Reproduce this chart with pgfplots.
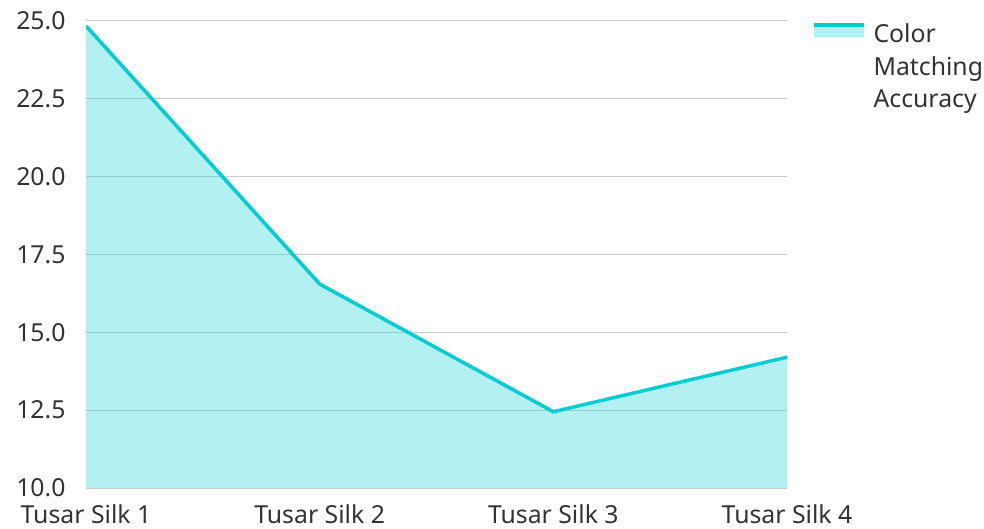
\documentclass[border=0pt]{standalone}
\usepackage{pgfplots}
\pgfplotsset{compat=1.18}
\usepackage{fontspec}
\setmainfont{Noto Sans}
\definecolor{lineC}{RGB}{0,206,209}
\definecolor{gridC}{RGB}{204,204,204}
\definecolor{txtC}{RGB}{51,51,51}
\begin{document}
\begin{tikzpicture}[x=1bp,y=1bp]
\path[use as bounding box] (-86bp,-41bp) rectangle (898bp,488bp);
\begin{axis}[
  at={(0,0)}, anchor=south west,
  scale only axis, width=701bp, height=467bp,
  xmin=0, xmax=3, ymin=10, ymax=25,
  xtick={0,1,2,3},
  xticklabels={Tusar Silk 1,Tusar Silk 2,Tusar Silk 3,Tusar Silk 4},
  ytick={10,12.5,15,17.5,20,22.5,25},
  yticklabel style={/pgf/number format/.cd, fixed, fixed zerofill, precision=1, /tikz/.cd, xshift=-17bp},
  xticklabel style={yshift=-13bp},
  /pgf/number format/assume math mode=true,
  ticklabel style={font=\fontsize{24.8bp}{28bp}\selectfont, text=txtC},
  major tick length=0pt,
  axis line style={draw=none},
  ymajorgrids, grid style={gridC, line width=1bp},
  legend style={draw=none, fill=none, at={(axis description cs:1,1)}, anchor=north west,
    xshift=25bp, yshift=-2.3bp, inner sep=0pt, outer sep=0pt,
    font=\fontsize{24.8bp}{32.5bp}\selectfont, text=txtC,
    nodes={inner sep=0pt, outer sep=0pt}, column sep=8bp},
  legend cell align=left,
  legend image code/.code={
    \path[fill=lineC!30!white, draw=none] (0bp,-3.4bp) rectangle (50bp,8.9bp);
    \path[draw=lineC, line width=3.5bp] (0bp,8.9bp) -- (50bp,8.9bp);
  },
]
\addplot[fill=lineC, fill opacity=0.3, draw=none, forget plot] coordinates {
  (0,24.84) (1,16.55) (2,12.45) (3,14.20)
} \closedcycle;
\addplot[lineC, line width=3.5bp, mark=none] coordinates {
  (0,24.84) (1,16.55) (2,12.45) (3,14.20)
};
\addlegendentry{\parbox[t]{120bp}{\raggedright Color\\Matching\\Accuracy}}
\end{axis}
\end{tikzpicture}
\end{document}
